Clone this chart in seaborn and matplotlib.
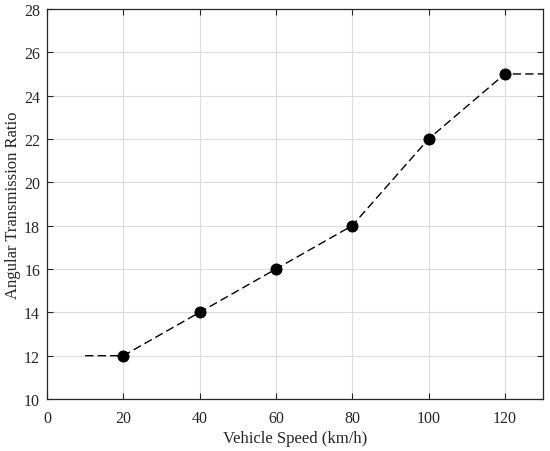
import numpy as np
import pandas as pd
import matplotlib
matplotlib.use("Agg")
import matplotlib.pyplot as plt
import seaborn as sns

# data
speed = [10, 20, 40, 60, 80, 100, 120, 130]
ratio = [12, 12, 14, 16, 18, 22, 25, 25]
marker_speed = [20, 40, 60, 80, 100, 120]
marker_ratio = [12, 14, 16, 18, 22, 25]

sns.set_theme(style="whitegrid")
plt.rcParams["font.family"] = ["Liberation Serif", "DejaVu Serif"]

line_df = pd.DataFrame({"speed": speed, "ratio": ratio})
pts_df = pd.DataFrame({"speed": marker_speed, "ratio": marker_ratio})

fig = plt.figure(figsize=(5.5, 4.52), dpi=100)
ax = fig.add_axes([0.0855, 0.115, 0.9018, 0.863])

sns.lineplot(data=line_df, x="speed", y="ratio", ax=ax, color="black",
             linestyle=(0, (6, 3)), linewidth=1.0)
sns.scatterplot(data=pts_df, x="speed", y="ratio", ax=ax, color="black",
                s=64, edgecolor="black", zorder=3)

ax.set_xlim(0, 130)
ax.set_ylim(10, 28)
ax.set_xticks(np.arange(0, 121, 20))
ax.set_yticks(np.arange(10, 29, 2))
ax.set_xlabel("Vehicle Speed (km/h)", fontsize=12, labelpad=3)
ax.set_ylabel("Angular Transmission Ratio", fontsize=12, labelpad=2)

ax.grid(True, color="#dcdcdc", linewidth=0.8)
for sp in ax.spines.values():
    sp.set_color("#262626")
    sp.set_linewidth(0.9)
ax.tick_params(direction="in", length=4, width=0.8, colors="#262626",
               labelcolor="#262626", labelsize=11.5, top=True, right=True,
               bottom=True, left=True)
ax.tick_params(axis="x", pad=8)
ax.tick_params(axis="y", pad=5)

fig.savefig("out.png", dpi=100)
